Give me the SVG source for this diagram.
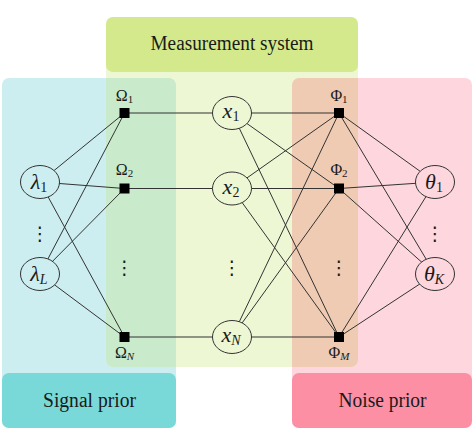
<svg xmlns="http://www.w3.org/2000/svg" width="474" height="442" viewBox="0 0 474 442">
<style>
.edge{stroke:#333;stroke-width:1;fill:none}
.fac{fill:#000}
.var{stroke:#333;stroke-width:1}
.head{font-family:"Liberation Serif",serif;font-size:20px;fill:#1a1a1a;text-anchor:middle}
.math{font-family:"Liberation Serif",serif;font-style:italic;font-size:22px;fill:#1a1a1a;text-anchor:middle}
.flbl{font-family:"Liberation Serif",serif;font-size:16px;fill:#1a1a1a;text-anchor:middle}
.dots{font-family:"DejaVu Serif","DejaVu Sans",serif;font-size:19px;fill:#1a1a1a;text-anchor:middle}
</style>
<defs>
<clipPath id="clipGreen"><rect x="106" y="17" width="252" height="350" rx="7"/></clipPath>
</defs>
<g id="regions">
<rect x="2" y="78" width="174" height="350" rx="7" fill="#cdeef0"/>
<rect x="292" y="78" width="180" height="350" rx="7" fill="#fdd6de"/>
<rect x="106" y="17" width="252" height="350" rx="7" fill="#eef7d4"/>
<g clip-path="url(#clipGreen)">
<rect x="2" y="78" width="174" height="350" rx="7" fill="#c9ebcb"/>
<rect x="292" y="78" width="180" height="350" rx="7" fill="#eecbb2"/>
</g>
</g>
<g id="header-measurement">
<rect x="106" y="17" width="252" height="55" rx="7" fill="#d4e98b"/>
<text class="head" x="232" y="50" textLength="163" lengthAdjust="spacingAndGlyphs">Measurement system</text>
</g>
<g id="header-signal">
<rect x="2" y="373" width="174" height="55" rx="7" fill="#79d9d8"/>
<text class="head" x="89.5" y="407" textLength="93" lengthAdjust="spacingAndGlyphs">Signal prior</text>
</g>
<g id="header-noise">
<rect x="292" y="373" width="180" height="55" rx="7" fill="#fc8fa4"/>
<text class="head" x="382.5" y="407" textLength="88" lengthAdjust="spacingAndGlyphs">Noise prior</text>
</g>
<g id="connectors">
<line class="edge" x1="40" y1="182" x2="124.5" y2="113"/>
<line class="edge" x1="40" y1="182" x2="124.5" y2="188.5"/>
<line class="edge" x1="40" y1="182" x2="124.5" y2="337"/>
<line class="edge" x1="40" y1="274" x2="124.5" y2="113"/>
<line class="edge" x1="40" y1="274" x2="124.5" y2="188.5"/>
<line class="edge" x1="40" y1="274" x2="124.5" y2="337"/>
<line class="edge" x1="124.5" y1="113" x2="232" y2="113"/>
<line class="edge" x1="124.5" y1="188.5" x2="232" y2="188.5"/>
<line class="edge" x1="124.5" y1="337" x2="232" y2="337"/>
<line class="edge" x1="232" y1="113" x2="339" y2="113"/>
<line class="edge" x1="232" y1="113" x2="339" y2="188.5"/>
<line class="edge" x1="232" y1="113" x2="339" y2="337"/>
<line class="edge" x1="232" y1="188.5" x2="339" y2="113"/>
<line class="edge" x1="232" y1="188.5" x2="339" y2="188.5"/>
<line class="edge" x1="232" y1="188.5" x2="339" y2="337"/>
<line class="edge" x1="232" y1="337" x2="339" y2="113"/>
<line class="edge" x1="232" y1="337" x2="339" y2="188.5"/>
<line class="edge" x1="232" y1="337" x2="339" y2="337"/>
<line class="edge" x1="339" y1="113" x2="435" y2="182"/>
<line class="edge" x1="339" y1="113" x2="435" y2="274"/>
<line class="edge" x1="339" y1="188.5" x2="435" y2="182"/>
<line class="edge" x1="339" y1="188.5" x2="435" y2="274"/>
<line class="edge" x1="339" y1="337" x2="435" y2="182"/>
<line class="edge" x1="339" y1="337" x2="435" y2="274"/>
</g>
<g id="lambda1"><ellipse class="var" cx="40" cy="182" rx="19.5" ry="16.5" fill="#cdeef0"/><text class="math" x="39" y="189">λ<tspan font-size="14" font-style="normal" dy="3">1</tspan></text></g>
<g id="lambdaL"><ellipse class="var" cx="40" cy="274" rx="19.5" ry="16.5" fill="#cdeef0"/><text class="math" x="39" y="281">λ<tspan font-size="14" dy="3">L</tspan></text></g>
<g id="lambda-dots"><text class="dots" x="40" y="240">⋮</text></g>
<g id="Omega1"><rect class="fac" x="119.5" y="108" width="10" height="10"/><text class="flbl" x="124.5" y="100.5">Ω<tspan font-size="11" dy="2">1</tspan></text></g>
<g id="Omega2"><rect class="fac" x="119.5" y="183.5" width="10" height="10"/><text class="flbl" x="124.5" y="175">Ω<tspan font-size="11" dy="2">2</tspan></text></g>
<g id="OmegaN"><rect class="fac" x="119.5" y="332" width="10" height="10"/><text class="flbl" x="124.5" y="358">Ω<tspan font-size="11" font-style="italic" dy="2">N</tspan></text></g>
<g id="Omega-dots"><text class="dots" x="124.5" y="274">⋮</text></g>
<g id="x1"><ellipse class="var" cx="232" cy="113" rx="19.5" ry="16.5" fill="#eef7d4"/><text class="math" x="231" y="118">x<tspan font-size="14" font-style="normal" dy="3">1</tspan></text></g>
<g id="x2"><ellipse class="var" cx="232" cy="188.5" rx="19.5" ry="16.5" fill="#eef7d4"/><text class="math" x="231" y="193.5">x<tspan font-size="14" font-style="normal" dy="3">2</tspan></text></g>
<g id="xN"><ellipse class="var" cx="232" cy="337" rx="19.5" ry="16.5" fill="#eef7d4"/><text class="math" x="231" y="342">x<tspan font-size="14" dy="3">N</tspan></text></g>
<g id="x-dots"><text class="dots" x="232" y="274">⋮</text></g>
<g id="Phi1"><rect class="fac" x="334" y="108" width="10" height="10"/><text class="flbl" x="339" y="100.5">Φ<tspan font-size="11" dy="2">1</tspan></text></g>
<g id="Phi2"><rect class="fac" x="334" y="183.5" width="10" height="10"/><text class="flbl" x="339" y="175">Φ<tspan font-size="11" dy="2">2</tspan></text></g>
<g id="PhiM"><rect class="fac" x="334" y="332" width="10" height="10"/><text class="flbl" x="339" y="358">Φ<tspan font-size="11" font-style="italic" dy="2">M</tspan></text></g>
<g id="Phi-dots"><text class="dots" x="339" y="274">⋮</text></g>
<g id="theta1"><ellipse class="var" cx="435" cy="182" rx="19.5" ry="16.5" fill="#fdd6de"/><text class="math" x="434" y="189">θ<tspan font-size="14" font-style="normal" dy="3">1</tspan></text></g>
<g id="thetaK"><ellipse class="var" cx="435" cy="274" rx="19.5" ry="16.5" fill="#fdd6de"/><text class="math" x="434" y="281">θ<tspan font-size="14" dy="3">K</tspan></text></g>
<g id="theta-dots"><text class="dots" x="435" y="240">⋮</text></g>
</svg>
